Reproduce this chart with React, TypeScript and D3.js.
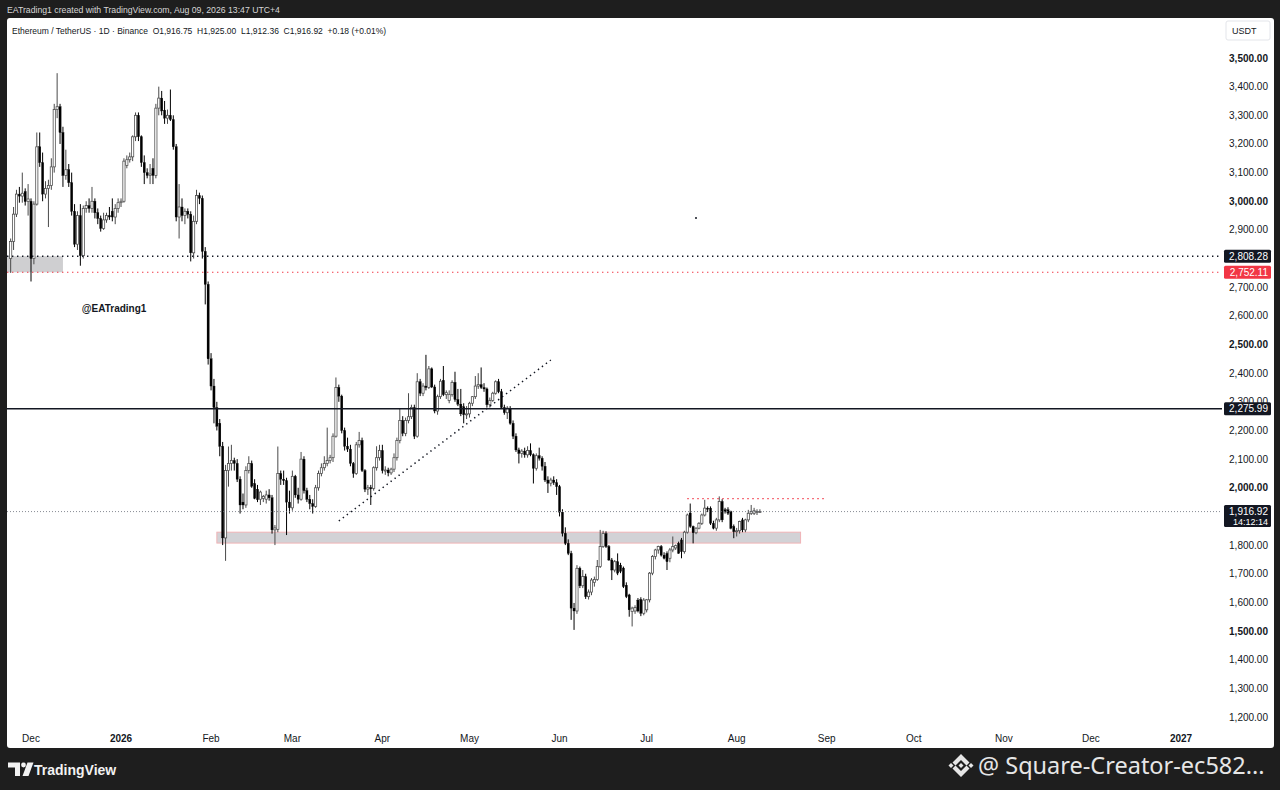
import React from 'react';
import * as d3 from 'd3';

type C = [number, number, number, number]; // open, high, low, close

// ---- daily candles ----
const nov2025: C[] = [
  [2800, 2870, 2750, 2860], [2860, 2980, 2830, 2955], [2955, 3040, 2945, 3025], [3025, 3050, 2995, 3018],
  [3018, 3100, 2995, 3028], [3034, 3045, 2985, 2999], [2999, 3060, 2950, 3008],
];
const dec2025: C[] = [
  [3000, 3010, 2720, 2800], [2800, 3000, 2780, 2990], [2990, 3240, 2985, 3190], [3190, 3240, 3120, 3135],
  [3135, 3170, 3000, 3025], [3025, 3070, 3010, 3045], [3045, 3075, 2910, 3055], [3055, 3150, 3040, 3120],
  [3120, 3340, 3100, 3320], [3320, 3447, 3290, 3330], [3330, 3340, 3200, 3240], [3240, 3260, 3050, 3090],
  [3090, 3180, 3075, 3110], [3110, 3130, 3050, 3065], [3065, 3100, 2950, 2965], [2965, 2990, 2840, 2850],
  [2850, 2965, 2830, 2950], [2950, 2990, 2775, 2810], [2810, 2985, 2800, 2975], [2975, 3000, 2960, 2985],
  [2985, 3010, 2960, 2975], [2975, 3050, 2960, 3000], [3000, 3010, 2940, 2960], [2960, 2975, 2920, 2940],
  [2940, 2950, 2894, 2905], [2905, 2960, 2900, 2935], [2935, 2960, 2925, 2950], [2950, 2980, 2935, 2945],
  [2965, 3010, 2930, 2945], [2945, 2990, 2920, 2975], [2975, 3010, 2960, 2995],
];
const jan2026: C[] = [
  [2995, 3010, 2980, 3000], [3000, 3150, 2995, 3140], [3125, 3160, 3115, 3145], [3145, 3170, 3135, 3155],
  [3155, 3230, 3140, 3225], [3225, 3310, 3210, 3300], [3300, 3310, 3210, 3225], [3225, 3230, 3120, 3135],
  [3135, 3160, 3060, 3100], [3100, 3115, 3080, 3090], [3090, 3130, 3060, 3095], [3115, 3150, 3060, 3090],
  [3090, 3340, 3080, 3325], [3325, 3400, 3300, 3360], [3360, 3385, 3300, 3315], [3318, 3350, 3270, 3290],
  [3290, 3320, 3270, 3300], [3300, 3390, 3280, 3285], [3285, 3300, 3180, 3190], [3190, 3200, 2930, 2945],
  [2945, 3060, 2870, 2980], [2980, 3010, 2930, 2950], [2950, 2975, 2920, 2965], [2965, 2975, 2940, 2955],
  [2955, 2965, 2790, 2820], [2820, 2950, 2800, 2930], [2930, 3040, 2920, 3020], [3020, 3030, 2990, 3010],
  [3010, 3020, 2800, 2825], [2825, 2840, 2640, 2710], [2710, 2720, 2430, 2450],
];
const feb2026: C[] = [
  [2450, 2470, 2340, 2355], [2355, 2380, 2225, 2280], [2280, 2300, 2200, 2215], [2225, 2240, 2110, 2145],
  [2145, 2160, 1800, 1825], [1825, 2080, 1745, 2060], [2060, 2144, 2004, 2085], [2085, 2150, 2060, 2095],
  [2095, 2105, 2060, 2085], [2085, 2100, 2020, 2030], [2030, 2040, 1910, 1940], [1950, 1980, 1925, 1940],
  [1940, 2075, 1930, 2060], [2060, 2110, 2050, 2085], [2085, 2095, 2000, 2005], [2015, 2030, 1960, 1963],
  [1995, 2010, 1950, 1958], [1960, 1990, 1940, 1985], [1963, 1975, 1950, 1970], [1960, 1990, 1945, 1975],
  [1975, 1995, 1955, 1965], [1965, 1975, 1840, 1853], [1853, 1870, 1800, 1860], [1855, 2144, 1845, 2050],
  [2050, 2060, 2010, 2030], [2030, 2060, 2010, 2025], [2025, 2035, 1835, 1950], [1950, 1990, 1910, 1930],
];
const mar2026: C[] = [
  [1930, 2060, 1920, 2040], [2040, 2045, 1965, 1975], [1975, 2000, 1945, 1960], [1960, 2125, 1955, 2100],
  [2100, 2110, 1980, 1990], [1990, 2000, 1950, 1960], [1960, 1975, 1925, 1945], [1945, 1960, 1910, 1935],
  [1935, 2010, 1930, 2000], [2000, 2060, 1990, 2050], [2050, 2085, 2040, 2070], [2070, 2110, 2060, 2085],
  [2085, 2210, 2075, 2095], [2095, 2115, 2085, 2105], [2105, 2190, 2090, 2180], [2180, 2385, 2175, 2350],
  [2350, 2360, 2300, 2320], [2320, 2325, 2190, 2200], [2200, 2210, 2130, 2145], [2145, 2175, 2125, 2135],
  [2135, 2150, 2075, 2085], [2085, 2090, 2035, 2050], [2050, 2160, 2045, 2150], [2150, 2195, 2140, 2165],
  [2165, 2175, 2055, 2060], [2060, 2065, 1985, 1995], [1995, 2010, 1975, 2000], [2000, 2010, 1940, 1998],
  [1998, 2075, 1990, 2070], [2070, 2145, 2060, 2105], [2105, 2150, 2095, 2130],
];
const apr2026: C[] = [
  [2130, 2150, 2050, 2060], [2060, 2075, 2045, 2062], [2062, 2070, 2040, 2052], [2052, 2070, 2045, 2065],
  [2065, 2120, 2055, 2105], [2105, 2175, 2095, 2165], [2165, 2275, 2155, 2235], [2235, 2250, 2180, 2190],
  [2190, 2245, 2180, 2235], [2235, 2330, 2225, 2248], [2248, 2290, 2240, 2280], [2280, 2290, 2170, 2180],
  [2180, 2400, 2175, 2370], [2370, 2380, 2320, 2330], [2330, 2365, 2320, 2355], [2355, 2464, 2340, 2350],
  [2350, 2425, 2345, 2415], [2415, 2420, 2348, 2352], [2352, 2360, 2260, 2268], [2268, 2325, 2255, 2318],
  [2318, 2380, 2310, 2372], [2375, 2425, 2320, 2325], [2325, 2340, 2310, 2332], [2305, 2340, 2295, 2325],
  [2325, 2375, 2318, 2368], [2368, 2405, 2300, 2308], [2308, 2345, 2285, 2292], [2292, 2345, 2250, 2258],
  [2283, 2295, 2225, 2255], [2255, 2285, 2240, 2258],
];
const may2026: C[] = [
  [2258, 2300, 2245, 2295], [2295, 2320, 2285, 2318], [2318, 2390, 2310, 2355], [2355, 2400, 2345, 2360],
  [2360, 2420, 2345, 2350], [2350, 2365, 2335, 2345], [2345, 2350, 2280, 2290], [2290, 2315, 2280, 2305],
  [2305, 2335, 2300, 2330], [2330, 2375, 2325, 2370], [2370, 2380, 2330, 2335], [2335, 2345, 2275, 2280],
  [2280, 2290, 2255, 2262], [2262, 2285, 2240, 2278], [2278, 2285, 2220, 2225], [2225, 2235, 2170, 2180],
  [2180, 2190, 2125, 2132], [2132, 2140, 2085, 2120], [2120, 2135, 2105, 2128], [2128, 2140, 2105, 2115],
  [2115, 2145, 2105, 2130], [2130, 2155, 2110, 2115], [2115, 2120, 2015, 2068], [2068, 2120, 2060, 2112],
  [2112, 2140, 2095, 2103], [2103, 2110, 2060, 2075], [2075, 2090, 2020, 2027], [2027, 2040, 1982, 2016],
  [2016, 2035, 2005, 2027], [2027, 2040, 2010, 2018], [2018, 2030, 1975, 2004],
];
const jun2026: C[] = [
  [2004, 2010, 1900, 1915], [1915, 1925, 1830, 1841], [1841, 1862, 1800, 1806], [1806, 1820, 1765, 1771],
  [1771, 1780, 1539, 1580], [1580, 1598, 1504, 1570], [1570, 1730, 1560, 1719], [1719, 1725, 1650, 1658],
  [1658, 1713, 1650, 1690], [1690, 1700, 1612, 1620], [1620, 1645, 1610, 1636], [1636, 1685, 1625, 1678],
  [1670, 1690, 1655, 1680], [1680, 1748, 1675, 1725], [1725, 1853, 1720, 1795], [1795, 1850, 1790, 1840],
  [1840, 1848, 1790, 1795], [1795, 1800, 1745, 1748], [1748, 1755, 1678, 1713], [1713, 1748, 1705, 1742],
  [1742, 1771, 1695, 1702], [1730, 1738, 1702, 1708], [1720, 1725, 1650, 1655], [1660, 1670, 1615, 1620],
  [1626, 1630, 1550, 1574], [1568, 1585, 1516, 1580], [1570, 1590, 1560, 1582], [1608, 1615, 1565, 1570],
  [1610, 1618, 1552, 1562], [1562, 1615, 1555, 1608],
];
const jul2026: C[] = [
  [1574, 1612, 1565, 1609], [1609, 1706, 1600, 1702], [1702, 1765, 1695, 1760], [1760, 1787, 1750, 1783],
  [1783, 1798, 1770, 1795], [1795, 1800, 1760, 1765], [1765, 1775, 1750, 1754], [1771, 1778, 1713, 1742],
  [1754, 1790, 1740, 1783], [1783, 1830, 1775, 1795], [1790, 1802, 1783, 1798], [1806, 1812, 1770, 1771],
  [1818, 1825, 1754, 1777], [1777, 1850, 1770, 1845], [1845, 1910, 1840, 1905], [1912, 1945, 1860, 1865],
  [1865, 1868, 1806, 1843], [1843, 1862, 1838, 1859], [1859, 1880, 1855, 1876], [1876, 1910, 1870, 1905],
  [1905, 1958, 1900, 1929], [1929, 1935, 1915, 1925], [1929, 1935, 1870, 1876], [1876, 1885, 1855, 1859],
  [1859, 1895, 1850, 1888], [1888, 1970, 1880, 1952], [1952, 1960, 1880, 1888], [1923, 1930, 1910, 1917],
  [1923, 1932, 1905, 1911], [1917, 1920, 1855, 1859], [1865, 1872, 1824, 1847],
];
const aug2026: C[] = [
  [1847, 1860, 1830, 1850], [1850, 1885, 1840, 1882], [1888, 1895, 1845, 1853], [1853, 1892, 1845, 1888],
  [1888, 1923, 1880, 1911], [1911, 1940, 1905, 1917], [1911, 1930, 1905, 1920], [1915, 1925, 1905, 1917],
  [1916.75, 1925, 1912.36, 1916.92],
];

const monthStarts: string[] = ['2025-11-24', '2025-12-01', '2026-01-01', '2026-02-01', '2026-03-01', '2026-04-01', '2026-05-01', '2026-06-01', '2026-07-01', '2026-08-01'];
const monthData: C[][] = [nov2025, dec2025, jan2026, feb2026, mar2026, apr2026, may2026, jun2026, jul2026, aug2026];

// ---- axis ticks ----
const priceTicks: number[] = d3.range(1200, 3501, 100);
const boldPriceTicks: number[] = [1500, 2000, 2500, 3000, 3500];
const hiddenPriceTicks: number[] = [2800, 1900]; // covered by the level labels in the reference
const timeLabels: string[] = ['Dec', '2026', 'Feb', 'Mar', 'Apr', 'May', 'Jun', 'Jul', 'Aug', 'Sep', 'Oct', 'Nov', 'Dec', '2027'];
const boldTimeLabels: string[] = ['2026', '2027'];

// ---- drawings ----
const levelDotted = 2808.28;
const levelRed = 2752.11;
const levelSolid = 2275.99;
const lastPrice = 1916.92;
const countdown = '14:12:14';
const zoneTop = { start: '2025-11-15', end: '2025-12-12', top: 2808.28, bottom: 2752.11 };
const zoneBottom = { start: '2026-02-03', end: '2026-08-23', top: 1845, bottom: 1807 };
const redShort = { start: '2026-07-15', end: '2026-09-01', price: 1962 };
const trendline = [{ date: '2026-03-17', price: 1884 }, { date: '2026-05-29', price: 2446 }];
const strayDot = { date: '2026-07-18', price: 2942 };
const watermark = { date: '2025-12-18T12:00:00Z', price: 2612, text: '@EATrading1' };

const parse = (s: string) => new Date(s.length > 10 ? s : s + 'T00:00:00Z');

const FONT = "'Liberation Sans', Arial, sans-serif";

const W = 1280, H = 790;
const panel = { x: 7, y: 18, w: 1267, h: 730 };
const plotRight = 1222;
const plotBottom = 728;

export default function App() {
  const x = d3.scaleUtc().domain([parse('2025-12-01'), parse('2027-01-01')]).range([31, 1181]);
  const y = d3.scaleLinear().domain([1200, 3500]).range([717, 58]);

  const candles = monthData.flatMap((arr, mi) =>
    arr.map((c, i) => ({ date: d3.utcDay.offset(parse(monthStarts[mi]), i), o: c[0], h: c[1], l: c[2], c: c[3] }))
  );

  const monthTicks = d3.utcMonth.range(parse('2025-12-01'), parse('2027-01-02'));
  const bw = 2.2;

  const fmt = d3.format(',.2f');
  const trendPath = d3.line<{ date: string; price: number }>()
    .x((d) => x(parse(d.date)))
    .y((d) => y(d.price))(trendline) || '';

  const axisBox = (price: number, fill: string, label: string, key: string) => {
    const cy = y(price);
    return (
      <g key={key}>
        <rect x={1224} y={cy - 6.5} width={47} height={13} fill={fill} rx={1.5} />
        <text x={1268} y={cy + 3.6} fill="#fff" fontSize={10} textAnchor="end" fontFamily={FONT}>{label}</text>
      </g>
    );
  };

  return (
    <div style={{ position: 'fixed', left: 0, top: 0, width: W, height: H }}>
      <svg width={W} height={H} viewBox={`0 0 ${W} ${H}`} style={{ display: 'block' }}>
        <defs>
          <clipPath id="plot">
            <rect x={panel.x} y={panel.y} width={plotRight - panel.x} height={plotBottom - panel.y} />
          </clipPath>
        </defs>
        <rect x={0} y={0} width={W} height={H} fill="#1e1e1e" />
        <text x={7} y={12.5} fill="#d6d6d6" fontSize={8.7} fontFamily={FONT}>
          EATrading1 created with TradingView.com, Aug 09, 2026 13:47 UTC+4
        </text>
        <rect x={panel.x} y={panel.y} width={panel.w} height={panel.h} fill="#ffffff" rx={3} />

        {/* legend */}
        <text x={12} y={34} fill="#131722" fontSize={8.5} fontFamily={FONT}>
          Ethereum / TetherUS · 1D · Binance{'\u00a0\u00a0'}O1,916.75{'\u00a0\u00a0'}H1,925.00{'\u00a0\u00a0'}L1,912.36{'\u00a0\u00a0'}C1,916.92{'\u00a0\u00a0'}+0.18 (+0.01%)
        </text>

        <g clipPath="url(#plot)">
          {/* zones */}
          <rect x={x(parse(zoneTop.start))} y={y(zoneTop.top)} width={x(parse(zoneTop.end)) - x(parse(zoneTop.start))}
            height={y(zoneTop.bottom) - y(zoneTop.top)} fill="#cfcfd1" />
          <rect x={x(parse(zoneBottom.start))} y={y(zoneBottom.top)} width={x(parse(zoneBottom.end)) - x(parse(zoneBottom.start))}
            height={y(zoneBottom.bottom) - y(zoneBottom.top)} fill="#d2d2d6" stroke="#f0b3b6" strokeWidth={1} />

          {/* candles */}
          {candles.map((d, i) => {
            const cx = x(d.date);
            const up = d.c >= d.o;
            const top = y(Math.max(d.o, d.c));
            const bot = y(Math.min(d.o, d.c));
            const hgt = Math.max(1, bot - top);
            const col = up ? '#4a4a4a' : '#000000';
            return (
              <g key={i}>
                <line x1={cx} x2={cx} y1={y(d.h)} y2={y(d.l)} stroke={col} strokeWidth={1} />
                <rect x={cx - bw / 2} y={top} width={bw} height={hgt} fill={up ? '#ffffff' : '#000000'}
                  stroke={col} strokeWidth={up ? 0.75 : 0.3} />
              </g>
            );
          })}

          {/* horizontal levels */}
          <line x1={panel.x} x2={plotRight} y1={y(levelDotted)} y2={y(levelDotted)} stroke="#131722" strokeWidth={1.4} strokeDasharray="1.4 3.6" />
          <line x1={panel.x} x2={plotRight} y1={y(levelRed)} y2={y(levelRed)} stroke="#f23645" strokeWidth={1.1} strokeDasharray="1.4 3.6" />
          <line x1={panel.x} x2={plotRight} y1={y(levelSolid)} y2={y(levelSolid)} stroke="#131722" strokeWidth={1.5} />
          <line x1={panel.x} x2={plotRight} y1={y(lastPrice)} y2={y(lastPrice)} stroke="#6a6d78" strokeWidth={0.8} strokeDasharray="1 2" />
          <line x1={x(parse(redShort.start))} x2={x(parse(redShort.end))} y1={y(redShort.price)} y2={y(redShort.price)}
            stroke="#f23645" strokeWidth={1.1} strokeDasharray="1.4 3.6" />

          {/* trendline */}
          <path d={trendPath} fill="none" stroke="#131722" strokeWidth={1.5} strokeDasharray="1.4 3.6" />

          <circle cx={x(parse(strayDot.date))} cy={y(strayDot.price)} r={1} fill="#131722" />

          <text x={x(parse(watermark.date))} y={y(watermark.price)} fontSize={10} fontWeight="bold" fill="#131722" fontFamily={FONT}>
            {watermark.text}
          </text>
        </g>

        {/* price axis */}
        <rect x={1226} y={21} width={44} height={19} fill="#fff" stroke="#e3e5ea" strokeWidth={1} rx={2} />
        <text x={1232} y={34} fontSize={9} fill="#131722" fontFamily={FONT}>USDT</text>
        {priceTicks.filter((v) => !hiddenPriceTicks.includes(v)).map((v) => (
          <text key={v} x={1268} y={y(v) + 3.5} fontSize={10} textAnchor="end" fill="#131722"
            fontWeight={boldPriceTicks.includes(v) ? 'bold' : 'normal'} fontFamily={FONT}>
            {fmt(v)}
          </text>
        ))}
        {axisBox(levelDotted, '#131722', fmt(levelDotted), 'l1')}
        {axisBox(levelRed, '#f23645', fmt(levelRed), 'l2')}
        {axisBox(levelSolid, '#131722', fmt(levelSolid), 'l3')}
        <g>
          <rect x={1224} y={y(lastPrice) - 6.5} width={47} height={22} fill="#131722" rx={1.5} />
          <text x={1268} y={y(lastPrice) + 3.4} fill="#fff" fontSize={10} textAnchor="end" fontFamily={FONT}>{fmt(lastPrice)}</text>
          <text x={1268} y={y(lastPrice) + 13.4} fill="#fff" fontSize={9} textAnchor="end" fontFamily={FONT}>{countdown}</text>
        </g>

        {/* time axis */}
        {monthTicks.map((d, i) => (
          <text key={i} x={x(d)} y={742} fontSize={10} textAnchor="middle" fill="#131722"
            fontWeight={boldTimeLabels.includes(timeLabels[i]) ? 'bold' : 'normal'} fontFamily={FONT}>
            {timeLabels[i]}
          </text>
        ))}

        {/* footer: TradingView */}
        <g fill="#f2f2f2">
          <path d="M8,762.5 H20 V776 H15 V767.5 H8 Z" />
          <circle cx={23.5} cy={765} r={2.4} />
          <path d="M27.5,762.5 H33.5 L28.5,776 H22.5 Z" />
          <text x={34} y={774.5} fontSize={14} fontWeight="bold" fontFamily={FONT}>TradingView</text>
        </g>

        {/* footer: Binance square */}
        <g fill="#e6e6e6">
          <path d="M961,754 L969.5,762.5 L966.5,765.5 L961,760 L955.5,765.5 L952.5,762.5 Z" />
          <path d="M961,777 L969.5,768.5 L966.5,765.5 L961,771 L955.5,765.5 L952.5,768.5 Z" />
          <path d="M948.5,765.5 L951,763 L953.5,765.5 L951,768 Z" />
          <path d="M968.5,765.5 L971,763 L973.5,765.5 L971,768 Z" />
          <path d="M961,763 L963.5,765.5 L961,768 L958.5,765.5 Z" />
          <text x={978} y={774} fontSize={23.5} fontFamily="'Noto Sans', 'Open Sans', sans-serif">@ Square-Creator-ec582...</text>
        </g>
      </svg>
    </div>
  );
}
